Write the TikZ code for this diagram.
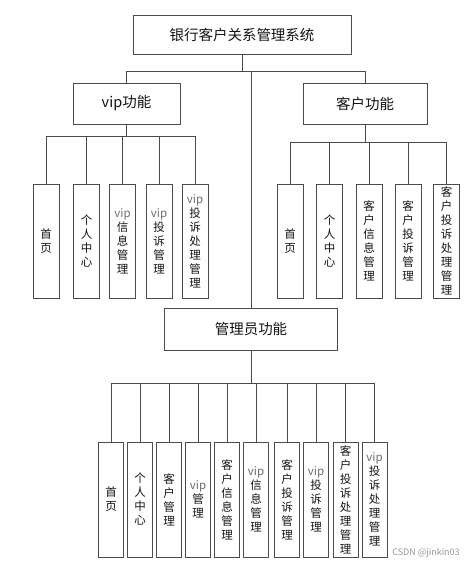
\documentclass[tikz,border=0pt]{standalone}
\usepackage{fontspec}
\setmainfont{Noto Sans CJK SC}
\definecolor{lineGray}{RGB}{75,75,75}
\definecolor{textBlack}{RGB}{20,20,20}
\definecolor{vipGray}{RGB}{110,110,110}
\definecolor{markGray}{RGB}{150,150,150}
\newcommand{\vipword}{\textcolor{vipGray}{vip}}

\begin{document}
\begin{tikzpicture}[x=1pt,y=-1pt,
  link/.style={draw=lineGray,line width=0.8pt},
  headbox/.style={draw=lineGray,line width=0.8pt,fill=white,text=textBlack,
    font=\fontsize{14.5}{16}\selectfont,inner sep=0pt},
  leafbox/.style={draw=lineGray,line width=0.8pt,fill=white,text=textBlack,
    minimum width=26pt,minimum height=114pt,inner sep=0pt,align=center,
    font=\fontsize{11.5}{14}\selectfont}]
\useasboundingbox (0,0) rectangle (474,566);

% Root
\node[headbox,minimum width=218pt,minimum height=39pt] (root) at (242,34.5) {银行客户关系管理系统};

% Second level
\node[headbox,minimum width=107pt,minimum height=41pt] (vip) at (126.5,103.5) {vip功能};
\node[headbox,minimum width=124pt,minimum height=41pt] (cust) at (365,103.5) {客户功能};
\node[headbox,minimum width=173pt,minimum height=42pt] (mgr) at (251,329) {管理员功能};

% vip leaves
\node[leafbox] (v1) at (46,241) {首\\页};
\node[leafbox] (v2) at (86.5,241) {个\\人\\中\\心};
\node[leafbox] (v3) at (122.5,241) {\vipword\\信\\息\\管\\理};
\node[leafbox] (v4) at (159,241) {\vipword\\投\\诉\\管\\理};
\node[leafbox] (v5) at (195,241) {\vipword\\投\\诉\\处\\理\\管\\理};

% customer leaves
\node[leafbox] (c1) at (290,241) {首\\页};
\node[leafbox] (c2) at (329.5,241) {个\\人\\中\\心};
\node[leafbox] (c3) at (369,241) {客\\户\\信\\息\\管\\理};
\node[leafbox] (c4) at (408,241) {客\\户\\投\\诉\\管\\理};
\node[leafbox] (c5) at (446.5,241) {客\\户\\投\\诉\\处\\理\\管\\理};

% admin leaves
\node[leafbox,minimum width=25pt,minimum height=115pt] (m1) at (111,499.5) {首\\页};
\node[leafbox,minimum width=25pt,minimum height=115pt] (m2) at (140,499.5) {个\\人\\中\\心};
\node[leafbox,minimum width=25pt,minimum height=115pt] (m3) at (169,499.5) {客\\户\\管\\理};
\node[leafbox,minimum width=25pt,minimum height=115pt] (m4) at (198,499.5) {\vipword\\管\\理};
\node[leafbox,minimum width=25pt,minimum height=115pt] (m5) at (227,499.5) {客\\户\\信\\息\\管\\理};
\node[leafbox,minimum width=25pt,minimum height=115pt] (m6) at (256,499.5) {\vipword\\信\\息\\管\\理};
\node[leafbox,minimum width=25pt,minimum height=115pt] (m7) at (287,499.5) {客\\户\\投\\诉\\管\\理};
\node[leafbox,minimum width=25pt,minimum height=115pt] (m8) at (316,499.5) {\vipword\\投\\诉\\管\\理};
\node[leafbox,minimum width=25pt,minimum height=115pt] (m9) at (345.5,499.5) {客\\户\\投\\诉\\处\\理\\管\\理};
\node[leafbox,minimum width=25pt,minimum height=115pt] (m10) at (374.5,499.5) {\vipword\\投\\诉\\处\\理\\管\\理};

% Bus points
\coordinate (rootbus) at (242,71);
\coordinate (vipbus) at (126.5,136);
\coordinate (custbus) at (365,142);
\coordinate (mgrbus) at (251,383);

% Connections
\draw[link] (root.south) -- (rootbus);
\draw[link] (vip.north) |- (rootbus);
\draw[link] (cust.north) |- (rootbus);
\draw[link] (mgr.north) |- (rootbus);

\draw[link] (vip.south) -- (vipbus);
\draw[link] (v1.north) |- (vipbus);
\draw[link] (v2.north) |- (vipbus);
\draw[link] (v3.north) |- (vipbus);
\draw[link] (v4.north) |- (vipbus);
\draw[link] (v5.north) |- (vipbus);

\draw[link] (cust.south) -- (custbus);
\draw[link] (c1.north) |- (custbus);
\draw[link] (c2.north) |- (custbus);
\draw[link] (c3.north) |- (custbus);
\draw[link] (c4.north) |- (custbus);
\draw[link] (c5.north) |- (custbus);

\draw[link] (mgr.south) -- (mgrbus);
\draw[link] (m1.north) |- (mgrbus);
\draw[link] (m2.north) |- (mgrbus);
\draw[link] (m3.north) |- (mgrbus);
\draw[link] (m4.north) |- (mgrbus);
\draw[link] (m5.north) |- (mgrbus);
\draw[link] (m6.north) |- (mgrbus);
\draw[link] (m7.north) |- (mgrbus);
\draw[link] (m8.north) |- (mgrbus);
\draw[link] (m9.north) |- (mgrbus);
\draw[link] (m10.north) |- (mgrbus);

% Watermark
\node[text=markGray,font=\fontsize{9}{10}\selectfont,inner sep=0pt] (mark) at (426,553) {CSDN @jinkin03};
\end{tikzpicture}
\end{document}
